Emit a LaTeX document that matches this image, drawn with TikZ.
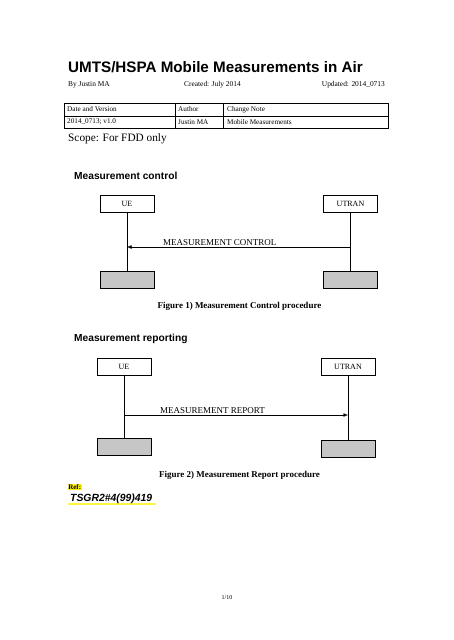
\documentclass[tikz,border=0pt]{standalone}
\usepackage{fontspec}
\setmainfont{Liberation Serif}
\setsansfont{Liberation Sans}
\usetikzlibrary{positioning,arrows.meta}

\tikzset{
  entity/.style={draw, thin, minimum width=54pt, minimum height=17pt, inner sep=0pt, font=\fontsize{8}{9}\selectfont},
  endbox/.style={draw, thin, fill=gray!45, minimum width=54pt, minimum height=17pt, inner sep=0pt},
  msg/.style={thin, -{Latex[length=4.5pt,width=3.6pt]}},
  msgtext/.style={anchor=base west, inner sep=0pt, font=\fontsize{9}{10}\selectfont},
  heading/.style={anchor=west, inner sep=0pt, font=\sffamily\bfseries\fontsize{10.2}{12}\selectfont},
  caption/.style={inner sep=0pt, font=\bfseries\fontsize{9}{10}\selectfont},
  body/.style={anchor=west, inner sep=0pt, font=\fontsize{7.4}{9}\selectfont},
  cell/.style={anchor=west, inner sep=0pt, font=\fontsize{7.2}{9}\selectfont},
}

\begin{document}
\begin{tikzpicture}[x=1pt,y=-1pt]
\useasboundingbox[fill=white] (0,0) rectangle (453,640);

% header
\node[anchor=base west, inner sep=0pt, font=\sffamily\bfseries\fontsize{15.2}{18}\selectfont] (title) at (68,72.5) {UMTS/HSPA Mobile Measurements in Air};
\node[body] (by) at (68,85) {By Justin MA};
\node[body] (created) at (184,85) {Created: July 2014};
\node[body, anchor=east] (updated) at (385,85) {Updated: 2014\_0713};

% version table
\draw[thin] (64,103) rectangle (388,128);
\draw[thin] (64,116) -- (388,116);
\foreach \x in {175,223} {
\draw[thin] (\x,103) -- (\x,128);
}
\node[cell] (t11) at (67,109.5) {Date and Version};
\node[cell] (t12) at (178,109.5) {Author};
\node[cell] (t13) at (227,109.5) {Change Note};
\node[cell] (t21) at (67,122) {2014\_0713; v1.0};
\node[cell] (t22) at (178,122) {Justin MA};
\node[cell] (t23) at (227,122) {Mobile Measurements};

\node[anchor=west, inner sep=0pt, font=\fontsize{11.3}{13}\selectfont] (scope) at (68,139) {Scope: For FDD only};

% measurement control
\node[heading] (hctrl) at (74,176) {Measurement control};
\node[entity] (ue1) at (127,203.5) {UE};
\node[entity] (utran1) at (350.5,203.5) {UTRAN};
\node[endbox] (ue1end) at (127,279.5) {};
\node[endbox] (utran1end) at (350.5,279.5) {};
\draw[thin] (ue1) -- (ue1end);
\draw[thin] (utran1) -- (utran1end);
\coordinate (m1) at (0,247);
\draw[msg] (utran1 |- m1) -- (ue1 |- m1);
\node[msgtext] (mctrl) at (163,245) {MEASUREMENT CONTROL};
\node[caption] (fig1) at (239.5,306) {Figure 1) Measurement Control procedure};

% measurement reporting
\node[heading] (hrep) at (74,339) {Measurement reporting};
\node[entity] (ue2) at (124,367) {UE};
\node[entity] (utran2) at (348,366.5) {UTRAN};
\node[endbox] (ue2end) at (124,447) {};
\node[endbox] (utran2end) at (348,449) {};
\draw[thin] (ue2) -- (ue2end);
\draw[thin] (utran2) -- (utran2end);
\coordinate (m2) at (0,415);
\draw[msg] (ue2 |- m2) -- (utran2 |- m2);
\node[msgtext] (mrep) at (160,413) {MEASUREMENT REPORT};
\node[caption] (fig2) at (239.5,475) {Figure 2) Measurement Report procedure};

% reference
\node[anchor=west, fill=yellow, inner sep=0.6pt, font=\bfseries\fontsize{7}{8}\selectfont] (ref) at (67.5,487) {Ref:};
\fill[yellow!75] (68,502.5) rectangle (156,505);
\node[anchor=west, inner sep=0pt, font=\sffamily\bfseries\itshape\fontsize{10.4}{12}\selectfont] (tsg) at (70,498.5) {TSGR2\#4(99)419};

% page number
\node[inner sep=0pt, font=\fontsize{6}{7}\selectfont] (page) at (227,598) {1/10};
\end{tikzpicture}
\end{document}
